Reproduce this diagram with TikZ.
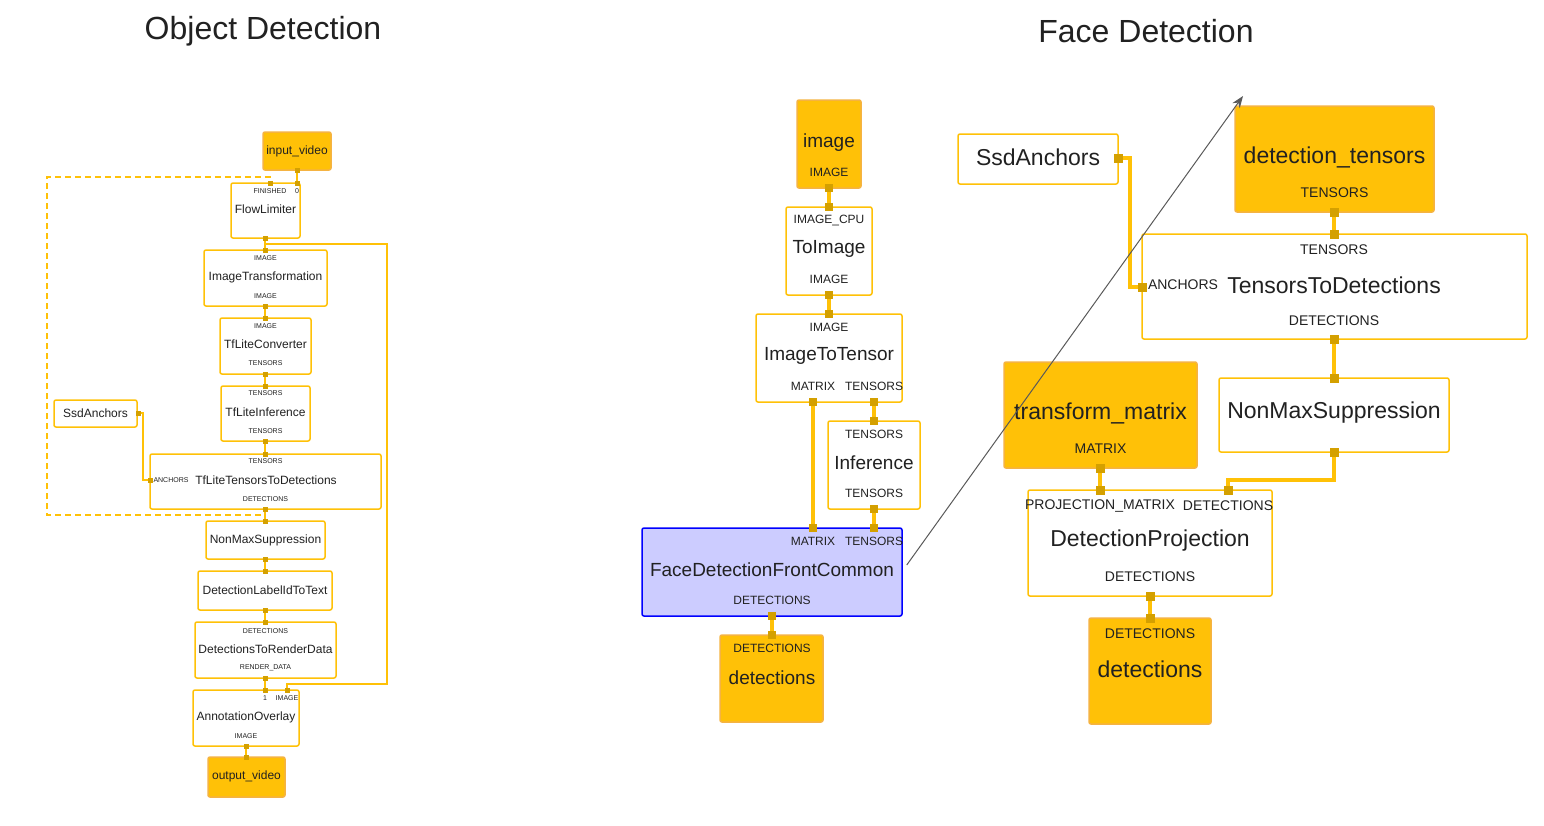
\documentclass[tikz,border=0pt]{standalone}
\usepackage{fontspec}
\setmainfont{Liberation Sans}
\usetikzlibrary{backgrounds,arrows.meta}
\definecolor{amb}{HTML}{FFC107}
\definecolor{ambd}{HTML}{F5B342}
\definecolor{prt}{HTML}{D4A000}
\definecolor{txt}{HTML}{212121}
\definecolor{fdfc}{HTML}{CCCCFF}
\tikzset{
 wbox/.style={draw=amb,fill=white,rounded corners=2pt,line width=1.5pt,inner sep=0pt},
 obox/.style={draw=ambd,fill=amb,rounded corners=2pt,line width=1.5pt,inner sep=0pt},
 bbox/.style={draw=blue,fill=fdfc,rounded corners=2pt,line width=1.5pt,inner sep=0pt},
 port/.style={fill=prt,inner sep=0pt,minimum size=#1},
 port/.default=5pt,
 lt/.style={text=txt,inner sep=0pt,font=\fontsize{7}{8}\selectfont},
 lm/.style={text=txt,inner sep=0pt,font=\fontsize{12}{14}\selectfont},
 mt/.style={text=txt,inner sep=0pt,font=\fontsize{12}{14}\selectfont},
 mm/.style={text=txt,inner sep=0pt,font=\fontsize{19}{22}\selectfont},
 rt/.style={text=txt,inner sep=0pt,font=\fontsize{14}{16}\selectfont},
 rm/.style={text=txt,inner sep=0pt,font=\fontsize{23}{26}\selectfont},
 e1/.style={draw=amb,line width=2pt},
 e2/.style={draw=amb,line width=3.5pt},
 e3/.style={draw=amb,line width=4pt},
}
\newcommand\bx[6]{\node[#1,minimum width=#4pt,minimum height=#5pt] (#2) at (#3) {#6};}
\begin{document}
\begin{tikzpicture}[x=1pt,y=-1pt]
\useasboundingbox (0,0) rectangle (1544,825);
\node[text=txt,font=\fontsize{32}{36}\selectfont] (t1) at (263,31) {Object Detection};
\node[text=txt,font=\fontsize{32}{36}\selectfont] (t2) at (1146,31) {Face Detection};

% ---------------- left graph
\bx{obox}{iv}{297,151}{68}{38}{}
\node[lm] (ivt) at (297,151) {input\_video};
\bx{wbox}{fl}{265.5,210.5}{69}{55}{}
\node[lt] at (270,191) {FINISHED}; \node[lt] at (297,191) {0};
\node[lm] at (265.5,209) {FlowLimiter};
\bx{wbox}{it}{265.5,278}{123}{56}{}
\node[lt] at (265.5,258) {IMAGE}; \node[lm] at (265.5,277) {ImageTransformation}; \node[lt] at (265.5,296) {IMAGE};
\bx{wbox}{tc}{265.5,346}{91}{56}{}
\node[lt] at (265.5,326) {IMAGE}; \node[lm] at (265.5,344) {TfLiteConverter}; \node[lt] at (265.5,363) {TENSORS};
\bx{wbox}{ti}{265.5,413.5}{89}{55}{}
\node[lt] at (265.5,393) {TENSORS}; \node[lm] at (265.5,412) {TfLiteInference}; \node[lt] at (265.5,431) {TENSORS};
\bx{wbox}{sa}{95.5,413.5}{83}{27}{}
\node[lm] at (95.5,413) {SsdAnchors};
\bx{wbox}{tt}{265.5,481.5}{231}{55}{}
\node[lt] at (265.5,461) {TENSORS}; \node[lt] at (171,480) {ANCHORS}; \node[lm] at (266,480) {TfLiteTensorsToDetections}; \node[lt] at (265.5,499) {DETECTIONS};
\bx{wbox}{nm}{265.5,540}{119}{38}{}
\node[lm] at (265.5,540) {NonMaxSuppression};
\bx{wbox}{dl}{265,590.5}{134}{39}{}
\node[lm] at (265,590) {DetectionLabelIdToText};
\bx{wbox}{dr}{265.5,650}{141}{56}{}
\node[lt] at (265.5,631) {DETECTIONS}; \node[lm] at (265.5,649) {DetectionsToRenderData}; \node[lt] at (265.5,668) {RENDER\_DATA};
\bx{wbox}{ao}{246,718}{106}{56}{}
\node[lt] at (265,698) {1}; \node[lt] at (287,698) {IMAGE}; \node[lm] at (246,717) {AnnotationOverlay}; \node[lt] at (246,736) {IMAGE};
\bx{obox}{ov}{246.5,777}{77}{40}{}
\node[lm] at (246.5,776) {output\_video};

\coordinate (p-iv) at (297,170); \coordinate (p-fl0) at (297,183); \coordinate (p-flf) at (270,183);
\coordinate (p-flo) at (265,238); \coordinate (p-iti) at (265,250); \coordinate (p-ito) at (265,306);
\coordinate (p-tci) at (265,318); \coordinate (p-tco) at (265,374); \coordinate (p-tii) at (265,386);
\coordinate (p-tio) at (265,441); \coordinate (p-tti) at (265,454); \coordinate (p-tto) at (265,509);
\coordinate (p-tta) at (150,480); \coordinate (p-sa) at (138,413);
\coordinate (p-nmi) at (265,521); \coordinate (p-nmo) at (265,559); \coordinate (p-dli) at (265,571);
\coordinate (p-dlo) at (265,610); \coordinate (p-dri) at (265,622); \coordinate (p-dro) at (265,678);
\coordinate (p-ao1) at (265,690); \coordinate (p-aoi) at (287,690); \coordinate (p-aoo) at (246,746);
\coordinate (p-ov) at (246,757);

\begin{pgfonlayer}{background}
\draw[e1] (p-iv) -- (p-fl0);
\draw[e1,dashed,dash pattern=on 6pt off 4pt] (p-tto) -- ++(0,6) -| (47,177) -| (p-flf);
\draw[e1] (p-flo) -- (p-iti);
\draw[e1] (p-flo) ++(0,6) -| (387,684) -| (p-aoi);
\draw[e1] (p-ito) -- (p-tci);
\draw[e1] (p-tco) -- (p-tii);
\draw[e1] (p-tio) -- (p-tti);
\draw[e1] (p-sa) -| (143,480) -- (p-tta);
\draw[e1] (p-tto) -- (p-nmi);
\draw[e1] (p-nmo) -- (p-dli);
\draw[e1] (p-dlo) -- (p-dri);
\draw[e1] (p-dro) -- (p-ao1);
\draw[e1] (p-aoo) -- (p-ov);
\end{pgfonlayer}
\foreach \p in {iv,fl0,flf,flo,iti,ito,tci,tco,tii,tio,tti,tto,tta,sa,nmi,nmo,dli,dlo,dri,dro,ao1,aoi,aoo,ov}
  \node[port] at (p-\p) {};

% ---------------- middle graph
\bx{obox}{im}{829,144}{64}{88}{}
\node[mm] at (829,143) {image}; \node[mt] at (829,172) {IMAGE};
\bx{wbox}{toi}{829,251}{86}{88}{}
\node[mt] at (829,220) {IMAGE\_CPU}; \node[mm] at (829,249) {ToImage}; \node[mt] at (829,279) {IMAGE};
\bx{wbox}{itt}{829,358}{146}{88}{}
\node[mt] at (829,327) {IMAGE}; \node[mm] at (829,356) {ImageToTensor};
\node[mt] at (813,386) {MATRIX}; \node[mt] at (874,386) {TENSORS};
\bx{wbox}{inf}{874,465}{92}{88}{}
\node[mt] at (874,434) {TENSORS}; \node[mm] at (874,463) {Inference}; \node[mt] at (874,493) {TENSORS};
\bx{bbox}{fd}{772,572}{260}{88}{}
\node[mt] at (813,541) {MATRIX}; \node[mt] at (874,541) {TENSORS};
\node[mm] at (772,570) {FaceDetectionFrontCommon}; \node[mt] at (772,600) {DETECTIONS};
\bx{obox}{dt}{771.5,678.5}{103}{87}{}
\node[mt] at (772,648) {DETECTIONS}; \node[mm] at (772,678) {detections};

\coordinate (q-im) at (829,188); \coordinate (q-toi) at (829,207); \coordinate (q-too) at (829,295);
\coordinate (q-itti) at (829,314); \coordinate (q-ittm) at (813,402); \coordinate (q-ittt) at (874,402);
\coordinate (q-infi) at (874,421); \coordinate (q-info) at (874,509);
\coordinate (q-fdm) at (813,528); \coordinate (q-fdt) at (874,528); \coordinate (q-fdo) at (772,616);
\coordinate (q-dt) at (772,635);
\begin{pgfonlayer}{background}
\draw[e2] (q-im) -- (q-toi);
\draw[e2] (q-too) -- (q-itti);
\draw[e2] (q-ittm) -- (q-fdm);
\draw[e2] (q-ittt) -- (q-infi);
\draw[e2] (q-info) -- (q-fdt);
\draw[e2] (q-fdo) -- (q-dt);
\end{pgfonlayer}
\foreach \p in {im,toi,too,itti,ittm,ittt,infi,info,fdm,fdt,fdo,dt}
  \node[port=8pt] at (q-\p) {};

% ---------------- right graph
\bx{wbox}{sa2}{1038,159}{160}{50}{}
\node[rm] at (1038,157) {SsdAnchors};
\bx{obox}{dtn}{1334.5,159}{199}{106}{}
\node[rm] at (1334.5,157) {detection\_tensors}; \node[rt] at (1334.5,193) {TENSORS};
\bx{wbox}{ttd}{1334.5,286.5}{385}{105}{}
\node[rt] at (1334,250) {TENSORS}; \node[rt] at (1183,285) {ANCHORS};
\node[rm] at (1334,285) {TensorsToDetections}; \node[rt] at (1334,321) {DETECTIONS};
\bx{obox}{tm}{1100.5,415}{193}{106}{}
\node[rm] at (1100.5,413) {transform\_matrix}; \node[rt] at (1100.5,449) {MATRIX};
\bx{wbox}{nms}{1334,415}{230}{74}{}
\node[rm] at (1334,413) {NonMaxSuppression};
\bx{wbox}{dp}{1150,543}{244}{106}{}
\node[rt] at (1100,506) {PROJECTION\_MATRIX}; \node[rt] at (1228,506) {DETECTIONS};
\node[rm] at (1150,541) {DetectionProjection}; \node[rt] at (1150,577) {DETECTIONS};
\bx{obox}{dt2}{1150,671}{122}{106}{}
\node[rt] at (1150,634) {DETECTIONS}; \node[rm] at (1150,669) {detections};

\coordinate (r-sa) at (1118,158); \coordinate (r-tta) at (1142,287);
\coordinate (r-dtn) at (1334,212); \coordinate (r-tti) at (1334,234); \coordinate (r-tto) at (1334,339);
\coordinate (r-nmi) at (1334,378); \coordinate (r-nmo) at (1334,452); \coordinate (r-dpd) at (1228,490);
\coordinate (r-tm) at (1100,468); \coordinate (r-dpm) at (1100,490); \coordinate (r-dpo) at (1150,596);
\coordinate (r-dt) at (1150,618);
\begin{pgfonlayer}{background}
\draw[e3] (r-sa) -| (1130,287) -- (r-tta);
\draw[e3] (r-dtn) -- (r-tti);
\draw[e3] (r-tto) -- (r-nmi);
\draw[e3] (r-nmo) |- (1228,480) -- (r-dpd);
\draw[e3] (r-tm) -- (r-dpm);
\draw[e3] (r-dpo) -- (r-dt);
\end{pgfonlayer}
\foreach \p in {sa,tta,dtn,tti,tto,nmi,nmo,dpd,tm,dpm,dpo,dt}
  \node[port=9pt] at (r-\p) {};

% zoom arrow
\coordinate (za) at (1243,96);
\draw[draw=black!65,line width=1pt,-{Stealth[length=12pt,width=9pt]}] (fd.east) ++(4,-7) -- (za);
\end{tikzpicture}
\end{document}
